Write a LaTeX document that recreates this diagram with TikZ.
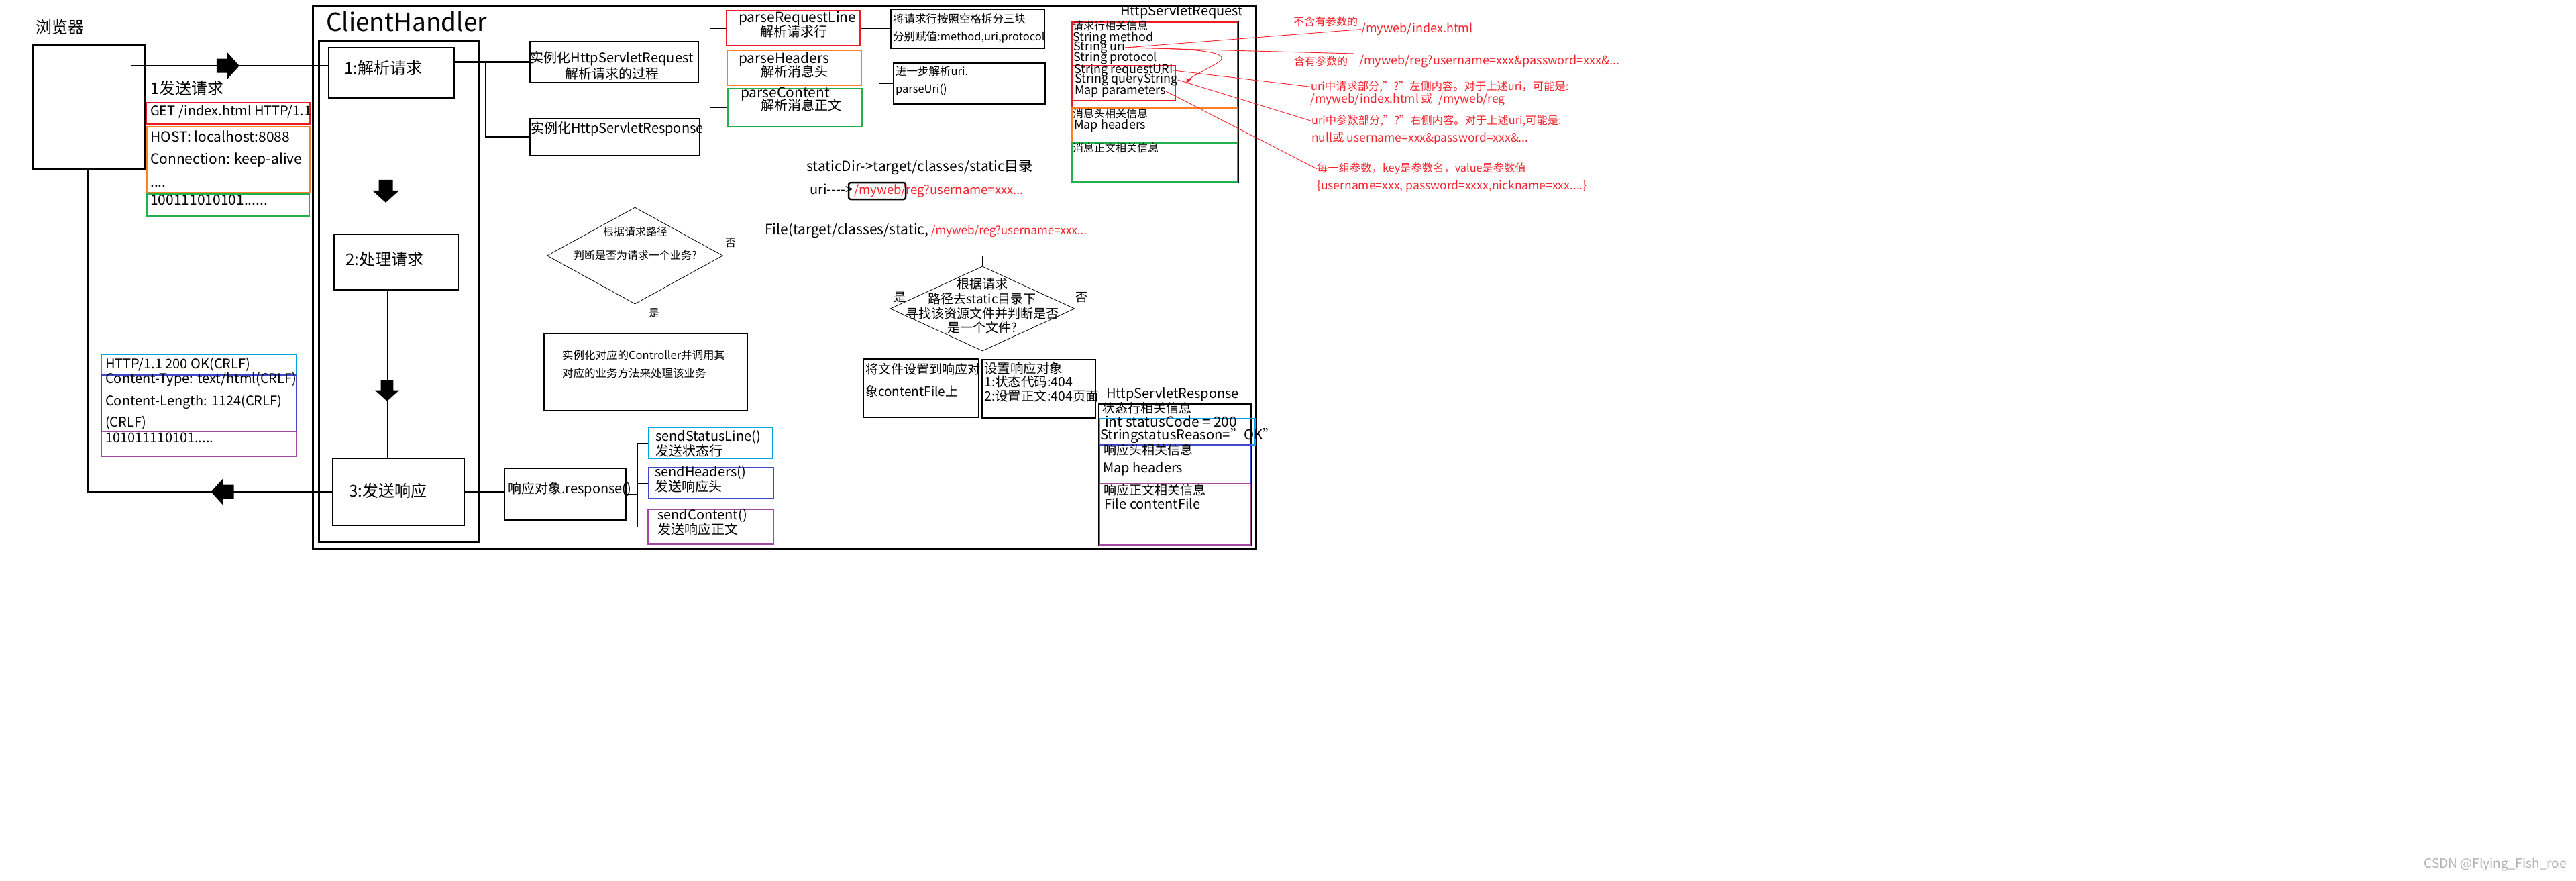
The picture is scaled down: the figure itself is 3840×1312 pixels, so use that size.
\documentclass[tikz,border=0pt]{standalone}
\usepackage{fontspec}
\setmainfont{Noto Sans CJK SC}
\usetikzlibrary{shapes.geometric,arrows.meta}
\definecolor{reqred}{RGB}{237,28,36}
\definecolor{reqorange}{RGB}{255,127,39}
\definecolor{reqgreen}{RGB}{34,177,76}
\definecolor{rescyan}{RGB}{0,162,232}
\definecolor{resblue}{RGB}{63,72,204}
\definecolor{respurple}{RGB}{163,73,164}
\definecolor{annred}{RGB}{245,35,45}
\tikzset{
  bx/.style 2 args={draw, line width=1.2, inner sep=0, minimum width=#1, minimum height=#2},
  dia/.style 2 args={diamond, draw, line width=0.8, inner sep=0, minimum width=#1, minimum height=#2},
  tx/.style={inner sep=0, anchor=mid west, font=\fontsize{#1}{#1}\selectfont},
  tx/.default=20,
  ml/.style 2 args={inner sep=0, anchor=west, align=left, font=\fontsize{#1}{#2}\selectfont},
  blkarrow/.pic={\fill (-17,-10.5) -- (-1,-10.5) -- (-1,-20) -- (17,0) -- (-1,20) -- (-1,10.5) -- (-17,10.5) -- cycle;},
  lk/.style={line width=2.2},
  lk2/.style={line width=2.6},
  an/.style={draw=annred, line width=0.9}
}
\begin{document}
\begin{tikzpicture}[x=1pt, y=-1pt]
  \fill[white] (0,0) rectangle (3840,1312);
  \useasboundingbox (0,0) rectangle (3840,1312);

  \node[tx=24] (brl) at (53,46.5) {浏览器};
  \node[bx={167}{185}, line width=3] (br) at (131.5,159.5) {};

  \node[tx=24] (sq) at (224,138) {1发送请求};
  \node[bx={244}{32}, draw=reqred, line width=2.2] (rq1) at (340,169) {};
  \node[tx=20] (rq1t) at (224,170) {GET /index.html HTTP/1.1};
  \node[bx={243}{98}, draw=reqorange, line width=2.2] (rq2) at (340.5,238) {};
  \node[ml={21}{33.5}] (rq2t) at (224,236.5) {HOST: localhost:8088\\Connection: keep-alive\\....};
  \node[bx={242}{33}, draw=reqgreen, line width=2.2] (rq3) at (340,305.5) {};
  \node[tx=21] (rq3t) at (224,303) {100111010101......};

  \node[bx={291}{31}, draw=rescyan] (rs1) at (296.5,543.5) {};
  \node[bx={291}{84}, draw=resblue] (rs2) at (296.5,601) {};
  \node[bx={291}{37}, draw=respurple] (rs3) at (296.5,661.5) {};
  \node[tx=20] (rs1t) at (157,547) {HTTP/1.1 200 OK(CRLF)};
  \node[tx=20] (rs2a) at (157,569) {Content-Type: text/html(CRLF)};
  \node[tx=20] (rs2b) at (157,602) {Content-Length: 1124(CRLF)};
  \node[tx=20] (rs2c) at (157,634) {(CRLF)};
  \node[tx=20] (rs3t) at (157,657) {101011110101.....};

  \node[bx={1406}{809}, line width=3] (cho) at (1169,413.5) {};
  \node[tx=37] (chl) at (486,43.5) {ClientHandler};
  \node[bx={239}{747}, line width=3] (chi) at (594.5,433.5) {};

  \node[bx={187}{75}] (s1) at (583.5,108.5) {};
  \node[tx=24] (s1t) at (513,108) {1:解析请求};
  \node[bx={185}{83}] (s2) at (590.5,390.5) {};
  \node[tx=24] (s2t) at (515,393) {2:处理请求};
  \node[bx={196}{100}] (s3) at (594,733) {};
  \node[tx=24] (s3t) at (520,738) {3:发送响应};

  \coordinate (rq0) at (196,98);
  \draw[lk] (rq0) -- coordinate[pos=0.49] (ar1) (rq0 -| s1.west);
  \pic at (ar1) {blkarrow};
  \coordinate (rs0) at (br.south |- s3.west);
  \draw[lk] (s3.west) -- coordinate[pos=0.45] (ar4) (rs0) -- (br.south);
  \pic[rotate=180] at (ar4) {blkarrow};
  \draw[line width=1] ([xshift=-8.5]s1.south) -- coordinate[pos=0.685] (ar2) ([xshift=-8.5]s1.south |- s2.north);
  \pic[rotate=-90] at (ar2) {blkarrow};
  \draw[line width=1] ([xshift=-13.5]s2.south) -- coordinate[pos=0.6] (ar3) ([xshift=-13.5]s2.south |- s3.north);
  \pic[rotate=-90, scale=0.9] at (ar3) {blkarrow};

  \node[bx={251}{61}] (rqi) at (915.5,92.5) {};
  \node[ml={20}{24}, align=center, anchor=center] (rqit) at (912,98) {实例化HttpServletRequest\\解析请求的过程};
  \node[bx={253}{55}] (rsi) at (916.5,204.5) {};
  \node[tx=20] (rsit) at (791,196) {实例化HttpServletResponse};
  \draw[lk2] (s1.east |- rqi.west) -- (rqi.west);
  \coordinate (j1) at (724,92.5);
  \draw[lk2] (j1) |- (rsi.west);

  \node[bx={199}{52}, draw=reqred, line width=2.5] (prl) at (1182.5,42) {};
  \node[tx=21] (prlt) at (1101,31) {parseRequestLine};
  \node[tx=20] (prlc) at (1133,52) {解析请求行};
  \node[bx={200}{52}, draw=reqorange, line width=2.5] (phd) at (1184,101) {};
  \node[tx=21] (phdt) at (1101,92) {parseHeaders};
  \node[tx=20] (phdc) at (1134,112) {解析消息头};
  \node[bx={200}{57}, draw=reqgreen, line width=2.5] (pct) at (1185,160.5) {};
  \node[tx=21] (pctt) at (1104,143) {parseContent};
  \node[tx=20] (pctc) at (1134,162) {解析消息正文};
  \coordinate (j2) at (1058,92.5);
  \draw (rqi.east) -- (j2);
  \draw (j2) |- (prl.west);
  \draw (j2) |- (phd.west);
  \draw (j2) |- (pct.west);

  \node[bx={229}{58}] (spl) at (1442.5,43) {};
  \node[ml={16.5}{26}] (splt) at (1331,42) {将请求行按照空格拆分三块\\分别赋值:method,uri,protocol};
  \node[bx={226}{61}] (pu) at (1445,124.5) {};
  \node[ml={16.5}{26}] (put) at (1335,120) {进一步解析uri.\\parseUri()};
  \coordinate (j3) at (1310,42);
  \draw (prl.east) -- (prl.east -| spl.west);
  \draw (j3) |- (pu.west);

  \node[tx=21] (sd) at (1202,253) {staticDir->target/classes/static目录};
  \node[tx=20] (ur) at (1207,287) {uri-{}-{}-{}-{}>};
  \node[tx=18.5, text=annred] (urr) at (1273,287) {/myweb/reg?username=xxx...};
  \node[draw, line width=2.5, rounded corners=3, inner sep=0, minimum width=85, minimum height=25] (urb) at (1307.5,284.5) {};

  \node[dia={262}{144}] (d1) at (946.5,381) {};
  \node[ml={16}{35}, align=center, anchor=center] (d1t) at (947,362.5) {根据请求路径\\判断是否为请求一个业务?};
  \draw (s2.east |- d1.west) -- (d1.west);
  \node[tx=16] (n1) at (1081,365) {否};
  \node[tx=16] (y1) at (967,470) {是};
  \node[bx={303}{115}] (ctl) at (962.5,554.5) {};
  \node[ml={16.5}{27}] (ctlt) at (838,542.5) {实例化对应的Controller并调用其\\对应的业务方法来处理该业务};
  \draw (d1.south) -- (d1.south |- ctl.north);

  \node[tx=21] (fl) at (1140,347) {File(target/classes/static,\,{\color{annred}\fontsize{17}{17}\selectfont/myweb/reg?username=xxx...}};

  \node[dia={275}{126}] (d2) at (1464.5,460) {};
  \node[ml={19}{21.7}, align=center, anchor=center] (d2t) at (1464,456) {根据请求\\路径去static目录下\\寻找该资源文件并判断是否\\是一个文件?};
  \draw (d1.east) -| (d2.north);
  \node[tx=18] (y2) at (1332,447) {是};
  \node[tx=18] (n2) at (1603,447) {否};
  \node[bx={172}{87}] (fb) at (1373,578.5) {};
  \node[ml={19}{33}] (fbt) at (1290,566.5) {将文件设置到响应对\\象contentFile上};
  \node[bx={169}{87}] (nf) at (1548.5,579.5) {};
  \node[ml={19.5}{20.5}] (nft) at (1467,569.5) {设置响应对象\\1:状态代码:404\\2:设置正文:404页面};
  \draw (d2.west) -- (d2.west |- fb.north);
  \draw (d2.east) -- (d2.east |- nf.north);

  \node[tx=20] (hqt) at (1670,20.5) {HttpServletRequest};
  \node[bx={249}{239}, line width=1.3] (hq) at (1721.5,151.5) {};
  \node[bx={247}{128}, draw=reqred] (hq1) at (1721.5,97) {};
  \node[bx={153}{52}, draw=reqred] (hq1b) at (1675.5,124) {};
  \node[bx={247}{52}, draw=reqorange] (hq2) at (1721.5,187) {};
  \node[bx={247}{58}, draw=reqgreen] (hq3) at (1721.5,242) {};
  \node[tx=16] (hqa) at (1599,42) {请求行相关信息};
  \node[tx=18] (hqm) at (1599,59) {String method};
  \node[tx=18] (hqu) at (1600,73) {String uri};
  \node[tx=18] (hqp) at (1600,89) {String protocol};
  \node[tx=18] (hqr) at (1601,107) {String requestURI};
  \node[tx=18] (hqq) at (1602,121) {String queryString};
  \node[tx=18] (hqs) at (1602,138) {Map parameters};
  \node[tx=16] (hqb) at (1599,173) {消息头相关信息};
  \node[tx=18] (hqh) at (1601,190) {Map headers};
  \node[tx=16] (hqc) at (1599,224) {消息正文相关信息};

  \node[tx=16, text=annred] (a1) at (1928,36) {不含有参数的};
  \node[tx=18, text=annred] (a2) at (2029,46) {/myweb/index.html};
  \node[tx=16, text=annred] (a3) at (1929,95) {含有参数的};
  \node[tx=18, text=annred] (a4) at (2026,94) {/myweb/reg?username=xxx\&password=xxx\&...};
  \node[tx=16.3, text=annred] (a5) at (1954,132) {uri中请求部分,\symbol{34}?\symbol{34}左侧内容。对于上述uri，可能是:};
  \node[tx=17.5, text=annred] (a6) at (1953,151) {/myweb/index.html 或\ \ /myweb/reg};
  \node[tx=16.3, text=annred] (a7) at (1955,183) {uri中参数部分,\symbol{34}?\symbol{34}右侧内容。对于上述uri,可能是:};
  \node[tx=17.5, text=annred] (a8) at (1955,209) {null或 username=xxx\&password=xxx\&...};
  \node[tx=16.3, text=annred] (a9) at (1963,254) {每一组参数，key是参数名，value是参数值};
  \node[tx=17.5, text=annred] (a10) at (1963,280) {\{username=xxx, password=xxxx,nickname=xxx....\}};
  \coordinate (c2) at (2019,80);
  \draw[an] (hqu.east) -- (a2.west);
  \draw[an] (hqu.east) -- (c2);
  \draw[an, -{Stealth[length=10,width=8]}] (hqu.east) .. controls (1790,72) and (1838,78) .. (1816,93) .. controls (1795,105) and (1772,117) .. ([xshift=13,yshift=-6]hqq.east);
  \draw[an] (hqr.east) -- (a5.west);
  \draw[an] (hqq.east) -- (a7.west);
  \draw[an] (hqs.east) -- (a9.west);

  \node[tx=20] (hst) at (1649,591) {HttpServletResponse};
  \node[bx={227}{211}, line width=1.3] (hs) at (1751.5,707.5) {};
  \node[bx={232}{39}, draw=rescyan, line width=1.3] (hs1) at (1755,643.5) {};
  \node[bx={225}{58}, draw=resblue, line width=1.5] (hs2) at (1751.5,692) {};
  \node[bx={225}{91}, draw=respurple, line width=1.3] (hs3) at (1751.5,766.5) {};
  \node[tx=19] (hsa) at (1643,613) {状态行相关信息};
  \node[tx=21] (hsc) at (1647,634) {int statusCode = 200};
  \node[tx=20.3] (hsr) at (1640,653) {StringstatusReason=\symbol{34}OK\symbol{34}};
  \node[tx=19] (hsb) at (1645,675) {响应头相关信息};
  \node[tx=20] (hsh) at (1644,702) {Map headers};
  \node[tx=19] (hsd) at (1645,735) {响应正文相关信息};
  \node[tx=20] (hsf) at (1646,756) {File contentFile};

  \node[bx={181}{77}] (rsp) at (842.5,736.5) {};
  \node[tx=20] (rspt) at (757,733) {响应对象.response()};
  \draw[lk2] (s3.east) -- (s3.east -| rsp.west);
  \node[bx={185}{46}, draw=rescyan, line width=1.3] (ss1) at (1059.5,660) {};
  \node[ml={20}{18}] (ss1t) at (977,661) {sendStatusLine()\\发送状态行};
  \node[bx={186}{46}, draw=resblue, line width=1.6] (ss2) at (1060,720) {};
  \node[ml={20}{19}] (ss2t) at (976,714.5) {sendHeaders()\\发送响应头};
  \node[bx={187}{52}, draw=respurple, line width=1.3] (ss3) at (1059.5,785) {};
  \node[ml={20}{20}] (ss3t) at (980,778) {sendContent()\\发送响应正文};
  \coordinate (j4) at (950,736.5);
  \draw (rsp.east) -- (j4);
  \draw (j4) |- (ss1.west);
  \draw (j4) |- (ss2.west);
  \draw (j4) |- (ss3.west);

  \node[tx=19, text=black!30, anchor=mid east] (wm) at (3826,1291) {CSDN @Flying\_Fish\_roe};
\end{tikzpicture}
\end{document}
